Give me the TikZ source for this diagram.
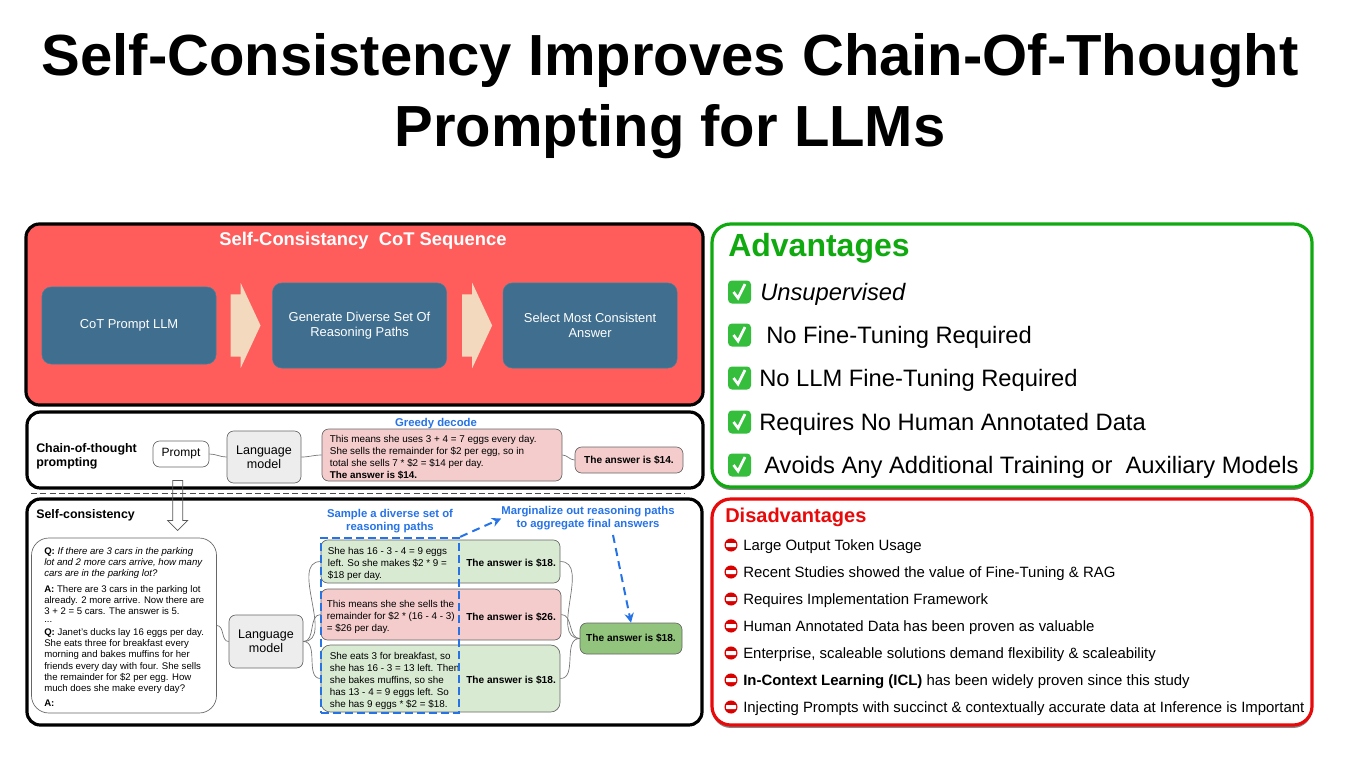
\documentclass[tikz,border=0pt]{standalone}
\usepackage{fontspec}
\setmainfont{Liberation Sans}
\usetikzlibrary{arrows.meta,positioning,shapes.arrows,shadows}
\definecolor{panelred}{RGB}{255,92,92}
\definecolor{seqblue}{RGB}{63,110,142}
\definecolor{seqarrow}{RGB}{243,218,190}
\definecolor{markblue}{RGB}{38,115,232}
\definecolor{goodgreen}{RGB}{16,170,16}
\definecolor{badred}{RGB}{232,10,10}
\definecolor{pathgreen}{RGB}{217,234,211}
\definecolor{pathpink}{RGB}{244,204,204}
\definecolor{finalgreen}{RGB}{147,196,125}
\definecolor{checkgreen}{RGB}{52,190,60}
\newcommand{\fs}[2]{\fontsize{#1}{#2}\selectfont}

\begin{document}
\begin{tikzpicture}[
      x=0.75pt, y=-0.75pt,
      sized/.style 2 args={minimum width=#1*0.75pt, minimum height=#2*0.75pt, inner sep=0pt},
      panel/.style={draw=black, line width=2.4pt, rounded corners=10pt, fill=white},
      sidepanel/.style={line width=2.4pt, rounded corners=14pt, fill=white,
                  drop shadow={shadow xshift=0pt, shadow yshift=-2.2pt, fill=black!60, opacity=0.8}},
      seqbox/.style={draw=seqblue!85!cyan, rounded corners=7pt, fill=seqblue, text=white,
                  align=center, font=\fs{9.7}{11.6}},
      seqflow/.style={single arrow, fill=seqarrow, inner xsep=0pt, inner ysep=23.2pt, minimum height=22.5pt,
                  single arrow head extend=8.6pt, single arrow tip angle=130},
      figbox/.style={draw=black!60, rounded corners=5pt, line width=0.5pt, align=center},
      figtext/.style={inner sep=0pt, align=left, yshift=-1.5pt, font=\fs{7.4}{9}},
      bubbletext/.style={inner sep=0pt, align=left, yshift=-0.75pt, font=\fs{7.2}{8.4}},
      answer/.style={inner sep=0pt, font=\bfseries\fs{7.6}{9}},
      bluelabel/.style={inner sep=0pt, align=center, text=markblue, font=\bfseries\fs{8.5}{9.7}},
      link/.style={draw=black!55, line width=0.5pt},
      markarrow/.style={-{Stealth[length=7pt, width=7pt]}, markblue, line width=1.5pt, dash pattern=on 6pt off 4pt},
      gooditem/.style={inner sep=0pt, anchor=west, yshift=-1.5pt, font=\fs{17.8}{21}},
      baditem/.style={inner sep=0pt, anchor=west, yshift=-1.5pt, font=\fs{11.2}{14}},
      checkicon/.pic={
        \fill[checkgreen, rounded corners=3pt] (-11.5,-11.5) rectangle (11.5,11.5);
        \draw[white, line width=2pt] (-6,0) -- (-1.5,6) -- (5.5,-8);
      },
      stopicon/.pic={
        \fill[red!85!black] (0,0) circle[radius=4.9pt];
        \fill[white, rounded corners=0.5pt] (-5,-2) rectangle (5,2);
      }
    ]
    \useasboundingbox (0,0) rectangle (1358,769);
    \node[inner sep=0pt, align=center, font=\bfseries\fs{43.5}{53.2}] (title) at (670,96.5)
      {Self-Consistency Improves Chain-Of-Thought\\Prompting for LLMs};

    \node[panel, fill=panelred, sized={677}{181}] (seqpanel) at (364.5,314.5) {};
    \node[inner sep=0pt, text=white, font=\bfseries\fs{13.8}{16}] (seqtitle) at (363,241)
      {Self-Consistancy\ \ CoT Sequence};
    \node[seqbox, sized={174}{77}] (seqprompt) at (129,325.5) {CoT Prompt LLM};
    \node[seqbox, sized={174}{85}, right=42pt of seqprompt] (seqpaths) {Generate Diverse Set Of\\Reasoning Paths};
    \node[seqbox, sized={174}{85}, right=42pt of seqpaths] (seqanswer) {Select Most Consistent\\Answer};
    \node[seqflow, right=10.5pt of seqprompt] (flowa) {};
    \node[seqflow, right=11.3pt of seqpaths] (flowb) {};

    \node[panel, sized={676}{76}] (chainpanel) at (365,450) {};
    \node[inner sep=0pt, align=left, anchor=west, font=\bfseries\fs{9.3}{10.5}] (chainlabel) at (36,456)
      {Chain-of-thought\\prompting};
    \node[figbox, sized={56}{26}, font=\fs{9}{10}] (prompt) at (181,454) {Prompt};
    \node[figbox, sized={74}{52}, fill=black!7, font=\fs{9.4}{10.3}] (model) at (264,457) {Language\\model};
    \node[figbox, sized={240}{52}, fill=pathpink] (greedy) at (442,455) {};
    \node[figtext, right=6pt of greedy.west] (greedytext)
      {This means she uses 3 + 4 = 7 eggs every day.\\She sells the remainder for \$2 per egg, so in\\total she sells 7 * \$2 = \$14 per day.\\\textbf{The answer is \$14.}};
    \node[figbox, sized={108}{26}, fill=pathpink, font=\bfseries\fs{7.6}{9}] (greedyanswer) at (629,460) {The answer is \$14.};
    \node[bluelabel] (greedylabel) at (436,424) {Greedy decode};
    \draw[link] (prompt.east) to[out=0, in=180] (model.west);
    \draw[link] (model.east) to[out=0, in=180] (greedy.west);
    \draw[link] (greedy.east) to[out=0, in=180] (greedyanswer.west);

    \coordinate (dashleft) at (31,493);
    \coordinate (dashright) at (685,493);
    \draw[black!70, line width=0.7pt, dash pattern=on 4.5pt off 2.5pt] (dashleft) -- (dashright);

    \node[panel, sized={675}{226}] (selfpanel) at (364.5,612) {};
    \node[inner sep=0pt, anchor=west, font=\bfseries\fs{9.3}{10}] (selflabel) at (36,515) {Self-consistency};
    \node[single arrow, draw=black!65, line width=0.5pt, inner sep=3.5pt, shape border rotate=270,
          minimum height=37.5pt, single arrow head extend=3.75pt] (promptflow) at (177.7,503) {};

    \node[figbox, sized={185}{175}, rounded corners=13pt] (bubble) at (124,625.5) {};
    \node[bubbletext, anchor=west] (bubbleq) at (44,562)
      {\textbf{Q:} \textit{If there are 3 cars in the parking}\\\textit{lot and 2 more cars arrive, how many}\\\textit{cars are in the parking lot?}};
    \node[bubbletext, anchor=west] (bubblea) at (44,599)
      {\textbf{A:} There are 3 cars in the parking lot\\already. 2 more arrive. Now there are\\3 + 2 = 5 cars. The answer is 5.};
    \node[inner sep=0pt, anchor=base west, font=\fs{7.2}{8.4}] (bubbledots) at (44,622) {...};
    \node[bubbletext, anchor=west] (bubbleducks) at (44,660)
      {\textbf{Q:} Janet's ducks lay 16 eggs per day.\\She eats three for breakfast every\\morning and bakes muffins for her\\friends every day with four. She sells\\the remainder for \$2 per egg. How\\much does she make every day?};
    \node[bubbletext, anchor=west] (bubbleend) at (44,702) {\textbf{A:}};
    \node[figbox, sized={74}{53}, fill=black!7, font=\fs{9.4}{10.3}] (samplemodel) at (266,641.5) {Language\\model};

    \node[figbox, sized={239}{43}, fill=pathgreen] (patha) at (440.5,561.5) {};
    \node[figbox, sized={240}{51}, fill=pathpink] (pathb) at (441,614.5) {};
    \node[figbox, sized={239}{67}, fill=pathgreen, rounded corners=7pt] (pathc) at (440.5,678.5) {};
    \node[figtext, right=5.2pt of patha.west] (pathatext) {She has 16 - 3 - 4 = 9 eggs\\left. So she makes \$2 * 9 =\\\$18 per day.};
    \node[figtext, right=4.5pt of pathb.west] (pathbtext) {This means she she sells the\\remainder for \$2 * (16 - 4 - 3)\\= \$26 per day.};
    \node[figtext, right=6.7pt of pathc.west] (pathctext) {She eats 3 for breakfast, so\\she has 16 - 3 = 13 left. Then\\she bakes muffins, so she\\has 13 - 4 = 9 eggs left. So\\she has 9 eggs * \$2 = \$18.};
    \node[answer, anchor=west] (answera) at (466,563) {The answer is \$18.};
    \node[answer, anchor=west] (answerb) at (466,617) {The answer is \$26.};
    \node[answer, anchor=west] (answerc) at (466,680) {The answer is \$18.};
    \node[figbox, sized={102}{31}, fill=finalgreen, font=\bfseries\fs{7.6}{9}] (final) at (631,638.5) {The answer is \$18.};

    \draw[link] (bubble.east) to[out=0, in=180] (samplemodel.west);
    \foreach \target in {patha,pathb,pathc}
      \draw[link] (samplemodel.east) to[out=0, in=180] (\target.west);
    \foreach \source in {patha,pathb,pathc}
      \draw[link] (\source.east) to[out=0, in=180] (final.west);

    \node[draw=markblue, line width=1.7pt, dash pattern=on 6pt off 3pt, sized={138}{175}] (pathgroup) at (390,625.5) {};
    \node[bluelabel] (samplelabel) at (390,521.5) {Sample a diverse set of\\reasoning paths};
    \node[bluelabel] (marglabel) at (588,518.5) {Marginalize out reasoning paths\\to aggregate final answers};
    \coordinate (margstart) at (613,535);
    \draw[markarrow] (pathgroup.north east) -- (marglabel.west);
    \draw[markarrow] (margstart) -- (final.north);

    \node[sidepanel, draw=goodgreen, sized={600}{263}] (goodpanel) at (1012,355.5) {};
    \node[inner sep=0pt, anchor=west, text=goodgreen, font=\bfseries\fs{24}{27}] (goodtitle) at (728,248) {Advantages};
    \foreach \row/\ypos/\xpos/\itemtext in {
        a/292/760/{\textit{Unsupervised}},
        b/335/766/{No Fine-Tuning Required},
        c/378/759/{No LLM Fine-Tuning Required},
        d/422/759/{Requires No Human Annotated Data},
        e/465/764/{Avoids Any Additional Training or\ \ Auxiliary Models}} {
      \pic at (739.5,\ypos) {checkicon};
      \node[gooditem] (good\row) at (\xpos,\ypos) {\itemtext};
    }

    \node[sidepanel, draw=badred, sized={600}{226}] (badpanel) at (1012,612) {};
    \node[inner sep=0pt, anchor=west, text=badred, font=\bfseries\fs{15}{17}] (badtitle) at (725,517) {Disadvantages};
    \foreach \row/\ypos/\itemtext in {
        a/545/{Large Output Token Usage},
        b/572/{Recent Studies showed the value of Fine-Tuning \& RAG},
        c/599/{Requires Implementation Framework},
        d/626/{Human Annotated Data has been proven as valuable},
        e/653/{Enterprise, scaleable solutions demand flexibility \& scaleability},
        f/680/{\textbf{In-Context Learning (ICL)} has been widely proven since this study},
        g/707/{Injecting Prompts with succinct \& contextually accurate data at Inference is Important}} {
      \pic at (731,\ypos) {stopicon};
      \node[baditem] (bad\row) at (743,\ypos) {\itemtext};
    }
  \end{tikzpicture}
\end{document}
